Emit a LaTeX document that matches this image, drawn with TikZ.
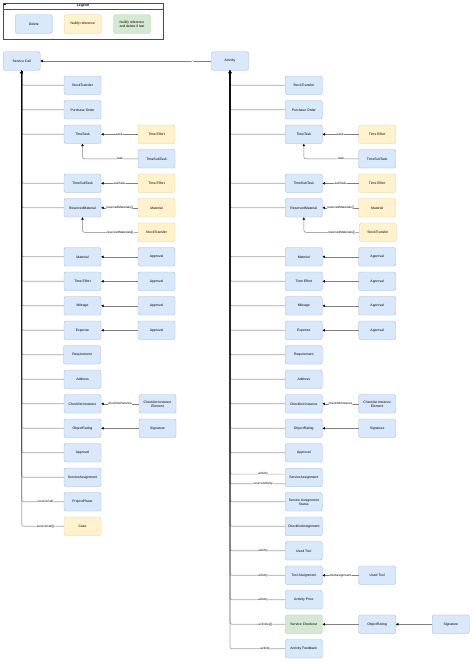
\documentclass[tikz,border=0pt]{standalone}
\usepackage{fontspec}
\setmainfont{Liberation Sans}
\usetikzlibrary{arrows.meta}
\definecolor{delfill}{HTML}{DAE8FC}
\definecolor{delline}{HTML}{6C8EBF}
\definecolor{nulfill}{HTML}{FFF2CC}
\definecolor{nulline}{HTML}{D6B656}
\definecolor{nuldelfill}{HTML}{D5E8D4}
\definecolor{nuldelline}{HTML}{82B366}
\tikzset{
  entity/.style={rectangle, rounded corners=2pt, draw, line width=0.35pt, minimum width=37pt,
    minimum height=18.5pt, inner sep=1pt, align=center, font=\fontsize{3.4}{4}\selectfont},
  delbox/.style={entity, fill=delfill, draw=delline!65},
  nullbox/.style={entity, fill=nulfill, draw=nulline!65},
  nulldelbox/.style={entity, fill=nuldelfill, draw=nuldelline!65},
  trunk/.style={draw=black, draw opacity=0.35, line width=0.7pt, rounded corners=2pt,
    -{Triangle[length=2.6pt,width=2.6pt,color=black]}},
  link/.style={draw=black!50, line width=0.5pt, rounded corners=2pt,
    -{Triangle[length=2.4pt,width=2.4pt,color=black]}},
  lbl/.style={font=\fontsize{3.1}{3.5}\selectfont, fill=white, inner sep=0.4pt}
}
\begin{document}
\begin{tikzpicture}[x=1pt, y=-1pt]
  \useasboundingbox (0,0) rectangle (474,662);
  % legend
  \node[draw=black!70, line width=0.4pt, minimum width=160pt, minimum height=36.6pt, anchor=north west, inner sep=0pt] (legend) at (2.7,2.7) {};
  \node[draw=black!70, line width=0.4pt, minimum width=160pt, minimum height=6.3pt, anchor=north, inner sep=0pt,
    font=\fontsize{3.4}{4}\selectfont\bfseries] (legendTitle) at (legend.north) {Legend};
  \draw[line width=0.6pt] (3.8,4.6) -- (6.2,4.6);
  \node[delbox] (legDelete) at (33.8,24) {Delete};
  \node[nullbox] (legNullify) at (82.8,24) {Nullify reference};
  \node[nulldelbox] (legNullDelete) at (132,24) {Nullify reference\\and delete if last};

  % service call side
  \node[delbox] (sc) at (21.7,61) {Service Call};
  \node[delbox] (scStock) at (82.5,85.3) {StockTransfer};
  \node[delbox] (scPurchase) at (82.5,109.8) {Purchase Order};
  \node[delbox] (scTask) at (82.5,134.3) {TimeTask};
  \node[nullbox] (scTaskEffort) at (156.5,134.3) {Time Effort};
  \node[delbox] (scTaskSub) at (156.5,158.8) {TimeSubTask};
  \node[delbox] (scSubTask) at (82.5,183.3) {TimeSubTask};
  \node[nullbox] (scSubEffort) at (156.5,183.3) {Time Effort};
  \node[delbox] (scReserved) at (82.5,207.8) {ReservedMaterial};
  \node[nullbox] (scResMaterial) at (156.5,207.8) {Material};
  \node[nullbox] (scResStock) at (156.5,232.3) {StockTransfer};
  \node[delbox] (scMaterial) at (82.5,256.8) {Material};
  \node[delbox] (scMatApproval) at (156.5,256.8) {Approval};
  \node[delbox] (scEffort) at (82.5,281.3) {Time Effort};
  \node[delbox] (scEffApproval) at (156.5,281.3) {Approval};
  \node[delbox] (scMileage) at (82.5,305.8) {Mileage};
  \node[delbox] (scMilApproval) at (156.5,305.8) {Approval};
  \node[delbox] (scExpense) at (82.5,330.3) {Expense};
  \node[delbox] (scExpApproval) at (156.5,330.3) {Approval};
  \node[delbox] (scRequirement) at (82,354.8) {Requirement};
  \node[delbox] (scAddress) at (82.5,379.3) {Address};
  \node[delbox] (scChecklist) at (82.5,403.8) {Checklist Instance};
  \node[delbox] (scCheckElem) at (157.5,403.8) {Checklist Instance\\Element};
  \node[delbox] (scRating) at (82.5,428.3) {ObjectRating};
  \node[delbox] (scSignature) at (157.5,428.3) {Signature};
  \node[delbox] (scApproval) at (82.5,452.8) {Approval};
  \node[delbox] (scAssign) at (82.5,477.3) {ServiceAssignment};
  \node[delbox] (scPhase) at (82.5,501.8) {ProjectPhase};
  \node[nullbox] (scCase) at (82.5,526.3) {Case};

  % activity side
  \node[delbox] (ac) at (230,61) {Activity};
  \node[delbox] (acStock) at (303.8,85.3) {StockTransfer};
  \node[delbox] (acPurchase) at (303.8,109.8) {Purchase Order};
  \node[delbox] (acTask) at (303.8,134.3) {TimeTask};
  \node[nullbox] (acTaskEffort) at (377.2,134.3) {Time Effort};
  \node[delbox] (acTaskSub) at (377.2,158.8) {TimeSubTask};
  \node[delbox] (acSubTask) at (303.8,183.3) {TimeSubTask};
  \node[nullbox] (acSubEffort) at (377.2,183.3) {Time Effort};
  \node[delbox] (acReserved) at (303.8,207.8) {ReservedMaterial};
  \node[nullbox] (acResMaterial) at (377.2,207.8) {Material};
  \node[nullbox] (acResStock) at (377.8,232.3) {StockTransfer};
  \node[delbox] (acMaterial) at (303.8,256.8) {Material};
  \node[delbox] (acMatApproval) at (377.2,256.8) {Approval};
  \node[delbox] (acEffort) at (303.8,281.3) {Time Effort};
  \node[delbox] (acEffApproval) at (377.2,281.3) {Approval};
  \node[delbox] (acMileage) at (303.8,305.8) {Mileage};
  \node[delbox] (acMilApproval) at (377.2,305.8) {Approval};
  \node[delbox] (acExpense) at (303.8,330.3) {Expense};
  \node[delbox] (acExpApproval) at (377.2,330.3) {Approval};
  \node[delbox] (acRequirement) at (303.8,354.8) {Requirement};
  \node[delbox] (acAddress) at (303.8,379.3) {Address};
  \node[delbox] (acChecklist) at (303.8,403.8) {Checklist Instance};
  \node[delbox] (acCheckElem) at (377.2,403.8) {Checklist Instance\\Element};
  \node[delbox] (acRating) at (303.8,428.3) {ObjectRating};
  \node[delbox] (acSignature) at (377.2,428.3) {Signature};
  \node[delbox] (acApproval) at (303.8,452.8) {Approval};
  \node[delbox] (acAssign) at (303.8,477.5) {ServiceAssignment};
  \node[delbox] (acStatus) at (303.8,501.8) {Service Assignment\\Status};
  \node[delbox] (acCheckAssign) at (303.8,526.3) {ChecklistAssignment};
  \node[delbox] (acUsedTool) at (303.8,550.8) {Used Tool};
  \node[delbox] (acToolAssign) at (303.8,575.3) {Tool Assignment};
  \node[delbox] (acToolUsed) at (377.2,575.3) {Used Tool};
  \node[delbox] (acPrice) at (303.8,599.8) {Activity Price};
  \node[nulldelbox] (acCheckout) at (303.8,624.3) {Service Checkout};
  \node[delbox] (acOutRating) at (377.2,624.3) {ObjectRating};
  \node[delbox] (acOutSignature) at (450.8,624.3) {Signature};
  \node[delbox] (acFeedback) at (303.8,648.8) {Activity Feedback};

  \draw[link] (ac.west) -- node[lbl, pos=0.11] {-} (sc.east);

  % service call trunk
  \draw[trunk] (scStock.west) -| (sc.south);
  \draw[trunk] (scPurchase.west) -| (sc.south);
  \draw[trunk] (scTask.west) -| (sc.south);
  \draw[trunk] (scSubTask.west) -| (sc.south);
  \draw[trunk] (scReserved.west) -| (sc.south);
  \draw[trunk] (scMaterial.west) -| (sc.south);
  \draw[trunk] (scEffort.west) -| (sc.south);
  \draw[trunk] (scMileage.west) -| (sc.south);
  \draw[trunk] (scExpense.west) -| (sc.south);
  \draw[trunk] (scRequirement.west) -| (sc.south);
  \draw[trunk] (scAddress.west) -| (sc.south);
  \draw[trunk] (scChecklist.west) -| (sc.south);
  \draw[trunk] (scRating.west) -| (sc.south);
  \draw[trunk] (scApproval.west) -| (sc.south);
  \draw[trunk] (scAssign.west) -| (sc.south);
  \draw[trunk] (scPhase.west) -| node[lbl, pos=0.22] {serviceCall} (sc.south);
  \draw[trunk] (scCase.west) -| node[lbl, pos=0.22] {serviceCall[]} (sc.south);

  % service call children
  \draw[link] (scTaskEffort) -- node[lbl] {task} (scTask);
  \draw[link] (scTaskSub.west) -| node[lbl, pos=0.16] {task} (scTask.south);
  \draw[link] (scSubEffort) -- node[lbl] {subTask} (scSubTask);
  \draw[link] (scResMaterial) -- node[lbl] {reservedMaterials[]} (scReserved);
  \draw[link] (scResStock.west) -| node[lbl, pos=0.16] {reservedMaterials[]} (scReserved.south);
  \draw[link] (scMatApproval) -- (scMaterial);
  \draw[link] (scEffApproval) -- (scEffort);
  \draw[link] (scMilApproval) -- (scMileage);
  \draw[link] (scExpApproval) -- (scExpense);
  \draw[link] (scCheckElem) -- node[lbl] {checklistInstance} (scChecklist);
  \draw[link] (scSignature) -- (scRating);

  % activity trunk
  \draw[trunk] (acStock.west) -| (ac.south);
  \draw[trunk] (acPurchase.west) -| (ac.south);
  \draw[trunk] (acTask.west) -| (ac.south);
  \draw[trunk] (acSubTask.west) -| (ac.south);
  \draw[trunk] (acReserved.west) -| (ac.south);
  \draw[trunk] (acMaterial.west) -| (ac.south);
  \draw[trunk] (acEffort.west) -| (ac.south);
  \draw[trunk] (acMileage.west) -| (ac.south);
  \draw[trunk] (acExpense.west) -| (ac.south);
  \draw[trunk] (acRequirement.west) -| (ac.south);
  \draw[trunk] (acAddress.west) -| (ac.south);
  \draw[trunk] (acChecklist.west) -| (ac.south);
  \draw[trunk] (acRating.west) -| (ac.south);
  \draw[trunk] (acApproval.west) -| (ac.south);
  \draw[trunk] ([yshift=3.4pt]acAssign.west) -| node[lbl, pos=0.2] {activity} (ac.south);
  \draw[trunk] ([yshift=-6.3pt]acAssign.west) -| node[lbl, pos=0.2] {sourceActivity} (ac.south);
  \draw[trunk] (acStatus.west) -| (ac.south);
  \draw[trunk] (acCheckAssign.west) -| (ac.south);
  \draw[trunk] (acUsedTool.west) -| node[lbl, pos=0.2] {activity} (ac.south);
  \draw[trunk] (acToolAssign.west) -| node[lbl, pos=0.2] {activity} (ac.south);
  \draw[trunk] (acPrice.west) -| node[lbl, pos=0.2] {activity} (ac.south);
  \draw[trunk] (acCheckout.west) -| node[lbl, pos=0.18] {activities[]} (ac.south);
  \draw[trunk] (acFeedback.west) -| node[lbl, pos=0.18] {activity} (ac.south);

  % activity children
  \draw[link] (acTaskEffort) -- node[lbl] {task} (acTask);
  \draw[link] (acTaskSub.west) -| node[lbl, pos=0.16] {task} (acTask.south);
  \draw[link] (acSubEffort) -- node[lbl] {subTask} (acSubTask);
  \draw[link] (acResMaterial) -- node[lbl] {reservedMaterials[]} (acReserved);
  \draw[link] (acResStock.west) -| node[lbl, pos=0.16] {reservedMaterials[]} (acReserved.south);
  \draw[link] (acMatApproval) -- (acMaterial);
  \draw[link] (acEffApproval) -- (acEffort);
  \draw[link] (acMilApproval) -- (acMileage);
  \draw[link] (acExpApproval) -- (acExpense);
  \draw[link] (acCheckElem) -- node[lbl] {checklistInstance} (acChecklist);
  \draw[link] (acSignature) -- (acRating);
  \draw[link] (acToolUsed) -- node[lbl] {toolAssignment} (acToolAssign);
  \draw[link] (acOutRating) -- (acCheckout);
  \draw[link] (acOutSignature) -- (acOutRating);
\end{tikzpicture}
\end{document}
